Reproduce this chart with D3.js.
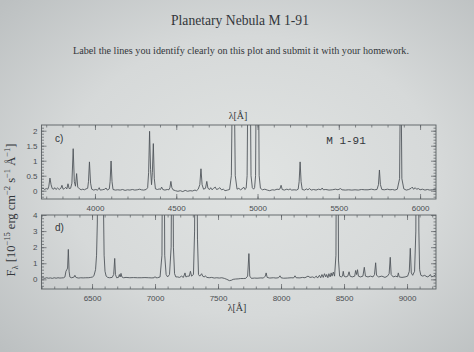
<!DOCTYPE html>
<html><head><meta charset="utf-8">
<script src="https://cdn.jsdelivr.net/npm/d3@7"></script>
<style>html,body{margin:0;padding:0;background:#d6d9d9;} svg{display:block}</style>
</head><body><svg id="chart" width="474" height="352"></svg>
<script>
// ---------- data ----------
const titleText = "Planetary Nebula M 1-91";
const subtitleText = "Label the lines you identify clearly on this plot and submit it with your homework.";
const objectLabel = "M 1-91";

// panel c) wavelength [Å] and flux
const cWave = [3671,3680,3690,3700,3710,3716,3723,3730,3737,3746,3752,3760,3770,3780,3790,3797,3804,3812,3820,3827,3834,3841,3850,3858,3866,3873,3880,3887,3894,3905,3915,3925,3935,3945,3955,3960,3966,3973,3980,3992,4005,4015,4020,4026,4032,4045,4060,4068,4076,4088,4093,4099,4105,4111,4125,4140,4155,4170,4185,4200,4215,4230,4245,4260,4275,4285,4300,4315,4324,4330,4336,4342,4348,4353,4359,4365,4372,4385,4395,4403,4410,4417,4430,4445,4455,4461,4467,4473,4480,4495,4510,4525,4540,4555,4570,4585,4600,4615,4625,4635,4645,4652,4659,4668,4680,4688,4695,4705,4712,4720,4730,4740,4748,4758,4768,4778,4790,4800,4815,4828,4839,4844,4851,4858,4863,4874,4885,4895,4905,4915,4922,4930,4936,4941,4948,4955,4960,4968,4976,4982,4988,4992,4999,5006,5010,5018,5030,5045,5060,5075,5090,5105,5120,5132,5138,5145,5152,5165,5180,5192,5200,5210,5225,5240,5250,5256,5262,5268,5275,5290,5300,5310,5320,5330,5345,5360,5375,5390,5398,5405,5420,5440,5460,5480,5495,5510,5520,5540,5560,5580,5600,5620,5640,5660,5680,5700,5720,5735,5744,5750,5756,5765,5780,5800,5815,5830,5845,5860,5874,5878,5881,5884,5888,5900,5915,5930,5945,5952,5960,5970,5978,5990,6000,6015,6030,6045,6060,6075,6098];
const cFlux = [0.05,0.09,0.04,0.07,0.05,0.15,0.42,0.2,0.07,0.05,0.1,0.04,0.09,0.04,0.08,0.18,0.05,0.07,0.11,0.06,0.23,0.07,0.08,0.25,1.4,0.3,0.15,0.57,0.12,0.06,0.03,0.05,0.03,0.06,0.08,0.3,0.96,0.25,0.05,0.02,0.04,0.02,0.04,0.1,0.02,0.03,0.05,0.09,0.02,0.06,0.3,0.99,0.3,0.04,0.02,0.03,0.02,0.04,0.01,0.03,0.02,0.04,0.02,0.03,0.05,0.03,0.02,0.04,0.1,0.6,1.98,0.7,0.2,0.6,1.57,0.4,0.06,0.04,0.06,0.04,0.12,0.04,0.02,0.04,0.03,0.1,0.31,0.1,0.03,0.0,-0.02,0.0,-0.03,0.01,-0.02,0.0,-0.01,0.02,0.0,0.05,0.2,0.73,0.2,0.05,0.08,0.31,0.08,0.04,0.1,0.03,0.08,0.12,0.04,0.06,0.1,0.03,0.05,0.0,0.02,0.04,0.5,3,60,3,0.5,0.05,0.08,0.03,0.06,0.12,0.04,0.08,0.5,4,60,4,0.5,0.1,0.05,0.1,0.5,4,80,4,0.5,0.08,0.03,0.05,0.02,0.0,0.03,0.02,0.05,0.04,0.06,0.18,0.04,0.02,0.05,0.03,0.06,0.02,0.03,0.02,0.05,0.3,0.96,0.3,0.04,0.02,0.06,0.03,0.07,0.02,0.04,0.02,0.05,0.03,0.09,0.03,0.04,0.02,0.03,0.05,0.03,0.07,0.03,0.02,0.03,0.02,0.03,0.02,0.04,0.03,0.03,0.05,0.03,0.04,0.2,0.69,0.2,0.04,0.03,0.05,0.03,0.04,0.02,0.05,0.4,3,20,3,0.4,0.06,0.02,0.04,0.08,0.12,0.05,0.1,0.05,0.07,0.03,0.05,0.02,0.04,0.02,0.03,0.05];

// panel d) wavelength [Å] and flux
const dWave = [6099,6110,6125,6140,6155,6170,6185,6200,6215,6230,6245,6260,6275,6285,6293,6300,6306,6312,6318,6324,6335,6350,6358,6364,6370,6380,6395,6410,6430,6450,6470,6490,6505,6515,6528,6536,6542,6548,6556,6563,6572,6578,6583,6590,6596,6603,6612,6625,6640,6660,6672,6680,6686,6695,6710,6717,6723,6730,6737,6750,6770,6800,6830,6860,6890,6920,6950,6975,6993,7000,7007,7020,7040,7055,7066,7077,7088,7100,7115,7128,7137,7146,7155,7165,7180,7195,7210,7225,7238,7245,7260,7272,7281,7290,7305,7314,7320,7325,7330,7337,7345,7355,7370,7378,7390,7400,7410,7430,7450,7470,7490,7510,7530,7550,7570,7590,7605,7620,7640,7660,7680,7700,7720,7735,7745,7752,7765,7790,7810,7840,7860,7875,7882,7890,7910,7940,7960,7980,7992,8000,8020,8050,8080,8100,8111,8120,8150,8170,8190,8214,8230,8250,8265,8280,8290,8305,8315,8325,8335,8345,8355,8362,8372,8380,8390,8398,8405,8415,8425,8436,8446,8456,8465,8478,8488,8494,8500,8515,8530,8540,8548,8565,8585,8592,8600,8607,8614,8630,8650,8661,8670,8690,8710,8730,8742,8751,8758,8775,8800,8825,8845,8858,8867,8874,8890,8910,8924,8931,8938,8960,8985,9005,9018,9026,9034,9045,9060,9070,9078,9086,9094,9100,9110,9125,9140,9160,9175,9185,9195,9210,9230];
const dFlux = [0.08,0.1,0.06,0.1,0.07,0.09,0.06,0.1,0.07,0.1,0.08,0.09,0.1,0.15,0.5,0.6,0.7,1.86,0.5,0.15,0.1,0.12,0.15,0.25,0.14,0.1,0.08,0.1,0.09,0.1,0.1,0.12,0.15,0.22,0.6,1.5,3.5,12,8,40,10,12,30,5,1.5,0.5,0.2,0.12,0.1,0.12,0.3,1.3,0.3,0.1,0.12,0.3,0.15,0.37,0.15,0.1,0.12,0.1,0.11,0.1,0.1,0.11,0.1,0.09,0.1,0.17,0.1,0.1,0.15,1.5,20,1.5,0.3,0.15,0.3,2,15,2,0.35,0.15,0.15,0.12,0.2,0.12,0.4,0.15,0.2,0.2,0.5,0.2,0.3,3,12,5,10,2.5,0.3,0.2,0.35,0.2,0.15,0.22,0.12,0.1,0.12,0.08,0.1,0.08,0.1,0.06,0.0,-0.08,-0.06,0.0,0.02,0.03,0.05,0.05,0.06,0.2,1.6,0.2,0.06,0.08,0.07,0.09,0.08,0.2,0.4,0.12,0.08,0.1,0.08,0.1,0.22,0.1,0.07,0.08,0.1,0.09,0.22,0.1,0.09,0.12,0.1,0.2,0.12,0.15,0.1,0.2,0.08,0.25,0.1,0.3,0.12,0.35,0.15,0.3,0.1,0.35,0.15,0.4,0.2,0.45,0.2,1.5,25,1.2,0.2,0.15,0.2,0.5,0.2,0.15,0.2,0.47,0.2,0.15,0.2,0.55,0.3,0.6,0.2,0.15,0.2,0.75,0.2,0.15,0.2,0.15,0.3,1.03,0.25,0.15,0.2,0.12,0.2,0.35,1.37,0.3,0.15,0.2,0.15,0.4,0.15,0.12,0.15,0.2,0.5,1.93,0.4,0.25,0.5,3,20,20,3,0.6,0.25,0.2,0.25,0.15,0.2,0.3,0.15,0.2,0.3];

// tick labels
const cXTicks = [4000,4500,5000,5500,6000];
const dXTicks = [6500,7000,7500,8000,8500,9000];
const cYTicks = [0,0.5,1,1.5,2];
const dYTicks = [0,1,2,3,4];

// ---------- drawing ----------
const svg = d3.select("#chart");
const W = 474, H = 352;
const defs = svg.append("defs");
const grad = defs.append("radialGradient").attr("id","paper")
  .attr("cx","0.53").attr("cy","0.5").attr("r","0.72");
grad.append("stop").attr("offset","0").attr("stop-color","#e0e3e2");
grad.append("stop").attr("offset","0.55").attr("stop-color","#d6d9d9");
grad.append("stop").attr("offset","1").attr("stop-color","#bcc0c1");
svg.append("rect").attr("width",W).attr("height",H).attr("fill","url(#paper)");

const ink = "#33373b";
const lineInk = "#50565b";
const serif = "'Liberation Serif','DejaVu Serif',serif";
const sans = "'Liberation Sans',Arial,sans-serif";

function fitText(sel, target){
  const fs = +sel.attr("font-size");
  const w = sel.node().getComputedTextLength();
  if (w > 0) sel.attr("font-size", (fs*target/w).toFixed(2));
}
const tt = svg.append("text").attr("x",240).attr("y",25).attr("text-anchor","middle")
  .attr("font-family",serif).attr("font-size",14).attr("fill",ink).text(titleText);
fitText(tt,138);
const st = svg.append("text").attr("x",241).attr("y",54).attr("text-anchor","middle")
  .attr("font-family",serif).attr("font-size",10).attr("fill",ink).text(subtitleText);
fitText(st,336);

function panel(opts){
  const {left,right,top,bottom,xDom,yDom,xWave,yFlux,xTicks,yTicks,xMinor,yMinor,id} = opts;
  const x = d3.scaleLinear().domain(xDom).range([left,right]);
  const y = d3.scaleLinear().domain(yDom).range([bottom,top]);
  const g = svg.append("g");
  defs.append("clipPath").attr("id",id).append("rect")
    .attr("x",left).attr("y",top).attr("width",right-left).attr("height",bottom-top);
  const pts = xWave.map((w,i)=>[w,yFlux[i]]);
  g.append("path").datum(pts).attr("clip-path",`url(#${id})`)
    .attr("fill","none").attr("stroke",lineInk).attr("stroke-width",0.9)
    .attr("stroke-linejoin","round")
    .attr("d", d3.line().x(d=>x(d[0])).y(d=>y(d[1])));
  const styleAxis = sel => {
    sel.select(".domain").remove();
    sel.selectAll(".tick line").attr("stroke","#5a5f63").attr("stroke-width",0.7);
    sel.selectAll(".tick text").attr("fill","#4a4e52").attr("font-family",sans).attr("font-size",8);
  };
  const xMinorVals = d3.range(xMinor[0],xMinor[1]+1,xMinor[2]).filter(v=>v>xDom[0]&&v<xDom[1]);
  const yMinorVals = d3.range(yMinor[0],yMinor[1]+1e-9,yMinor[2]).map(v=>+v.toFixed(3)).filter(v=>v>yDom[0]&&v<yDom[1]);
  g.append("g").attr("transform",`translate(0,${bottom})`)
    .call(d3.axisBottom(x).tickValues(xTicks).tickSize(-5).tickPadding(6).tickFormat(d3.format("d")))
    .call(styleAxis);
  g.append("g").attr("transform",`translate(0,${bottom})`)
    .call(d3.axisBottom(x).tickValues(xMinorVals).tickSize(-2.5).tickFormat("")).call(styleAxis);
  g.append("g").attr("transform",`translate(0,${top})`)
    .call(d3.axisTop(x).tickValues(xTicks).tickSize(-5).tickFormat("")).call(styleAxis);
  g.append("g").attr("transform",`translate(0,${top})`)
    .call(d3.axisTop(x).tickValues(xMinorVals).tickSize(-2.5).tickFormat("")).call(styleAxis);
  g.append("g").attr("transform",`translate(${left},0)`)
    .call(d3.axisLeft(y).tickValues(yTicks).tickSize(-5).tickPadding(4).tickFormat(d3.format("~g"))).call(styleAxis);
  g.append("g").attr("transform",`translate(${left},0)`)
    .call(d3.axisLeft(y).tickValues(yMinorVals).tickSize(-2.5).tickFormat("")).call(styleAxis);
  g.append("g").attr("transform",`translate(${right},0)`)
    .call(d3.axisRight(y).tickValues(yTicks).tickSize(-5).tickFormat("")).call(styleAxis);
  g.append("g").attr("transform",`translate(${right},0)`)
    .call(d3.axisRight(y).tickValues(yMinorVals).tickSize(-2.5).tickFormat("")).call(styleAxis);
  g.append("rect").attr("x",left).attr("y",top).attr("width",right-left).attr("height",bottom-top)
    .attr("fill","none").attr("stroke","#5a5f63").attr("stroke-width",0.9);
  return {x,y,g};
}

panel({id:"clipc",left:41.5,right:436,top:125,bottom:199,
  xDom:[3671,6098],yDom:[-0.277,2.19],xWave:cWave,yFlux:cFlux,
  xTicks:cXTicks,yTicks:cYTicks,xMinor:[3700,6100,100],yMinor:[-0.2,2.1,0.1]});
panel({id:"clipd",left:41.5,right:436,top:215,bottom:289,
  xDom:[6099,9230],yDom:[-0.6,4.0],xWave:dWave,yFlux:dFlux,
  xTicks:dXTicks,yTicks:dYTicks,xMinor:[6100,9200,100],yMinor:[-0.4,4,0.2]});

svg.append("text").attr("x",55).attr("y",142).attr("font-family",sans).attr("font-size",10)
  .attr("fill",ink).text("c)");
svg.append("text").attr("x",55).attr("y",231).attr("font-family",sans).attr("font-size",10)
  .attr("fill",ink).text("d)");
svg.append("text").attr("x",346).attr("y",144).attr("text-anchor","middle")
  .attr("font-family","'Liberation Mono','DejaVu Sans Mono',monospace").attr("font-size",11)
  .attr("fill",ink).text(objectLabel);

svg.append("text").attr("x",238).attr("y",119).attr("text-anchor","middle")
  .attr("font-family",serif).attr("font-size",10).attr("fill",ink).text("λ[Å]");
svg.append("text").attr("x",237).attr("y",311).attr("text-anchor","middle")
  .attr("font-family",serif).attr("font-size",10).attr("fill",ink).text("λ[Å]");

const yt = svg.append("text").attr("transform","translate(15,210) rotate(-90)")
  .attr("text-anchor","middle").attr("font-family",serif).attr("font-size",12.5).attr("fill",ink);
yt.append("tspan").text("F");
yt.append("tspan").attr("font-size",8.5).attr("dy",2.5).text("λ");
yt.append("tspan").attr("dy",-2.5).text(" [10");
yt.append("tspan").attr("font-size",8.5).attr("dy",-5).text("−15");
yt.append("tspan").attr("dy",5).text(" erg cm");
yt.append("tspan").attr("font-size",8.5).attr("dy",-5).text("−2");
yt.append("tspan").attr("dy",5).text(" s");
yt.append("tspan").attr("font-size",8.5).attr("dy",-5).text("−1");
yt.append("tspan").attr("dy",5).text(" Å");
yt.append("tspan").attr("font-size",8.5).attr("dy",-5).text("−1");
yt.append("tspan").attr("dy",5).text("]");
</script>
</body></html>
